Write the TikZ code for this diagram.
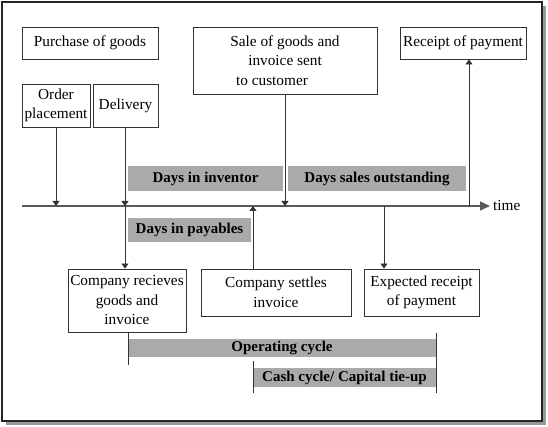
\documentclass[tikz,border=0pt]{standalone}
\usepackage{fontspec}
\setmainfont{Liberation Serif}
\usetikzlibrary{arrows.meta}
\definecolor{barfill}{HTML}{AAAAAA}
\definecolor{linecol}{HTML}{333333}
\begin{document}
\begin{tikzpicture}[x=1pt,y=-1pt,
  txt/.style={font=\fontsize{15.3}{19.5}\selectfont},
  box/.style={draw=linecol,line width=0.9pt,fill=white,align=center,inner sep=0pt,txt},
  bar/.style={fill=barfill,inner sep=0pt,font=\fontsize{15}{19}\selectfont\bfseries},
  conn/.style={draw=linecol,line width=0.8pt,-{Triangle[width=7pt,length=5pt]}},
  tick/.style={draw=linecol,line width=0.8pt}]
\useasboundingbox (0,0) rectangle (548,427);
% frame with shadow
\fill[black!40] (6,6) rectangle (546,425);
\draw[fill=white,draw=black!85,line width=1.5pt] (2,2) rectangle (542,421);
% boxes
\node[box,minimum width=136pt,minimum height=32pt] (purchase) at (90,43) {Purchase of goods};
\node[box,minimum width=68pt,minimum height=43pt] (order) at (56,105.5) {Order\\placement};
\node[box,minimum width=65pt,minimum height=43pt] (delivery) at (125.5,105.5) {Delivery};
\node[box,minimum width=184pt,minimum height=67pt] (sale) at (285,60.5) {Sale of goods and\\invoice sent\\to customer\hspace*{26pt}};
\node[box,minimum width=126pt,minimum height=32pt] (receipt) at (463,43) {Receipt of payment};
\node[box,minimum width=118pt,minimum height=63pt] (recv) at (127,300.5) {Company recieves\\goods and\\invoice};
\node[box,minimum width=150pt,minimum height=47pt] (settles) at (276,292.5) {Company settles\\invoice};
\node[box,minimum width=115pt,minimum height=47pt] (expected) at (421.5,292.5) {Expected receipt\\of payment};
% bars
\node[bar,minimum width=155pt,minimum height=25pt] (inv) at (205.5,178.5) {Days in inventor};
\node[bar,minimum width=178pt,minimum height=25pt] (dso) at (377,178.5) {Days sales outstanding};
\node[bar,minimum width=123pt,minimum height=24pt] (pay) at (189.5,230) {Days in payables};
\node[bar,minimum width=308pt,minimum height=18pt] (op) at (282,348) {Operating cycle};
\node[bar,minimum width=183pt,minimum height=19pt] (cash) at (344.5,377.5) {Cash cycle/ Capital tie-up};
% timeline
\coordinate (t0) at (22,206);
\coordinate (t1) at (490,206);
\draw[draw=black!65,line width=1.5pt,-{Triangle[width=9pt,length=10pt]}] (t0) -- (t1);
\node[txt,anchor=west,inner sep=0pt] (time) at (493,206) {time};
\coordinate (tord) at (56,206);
\coordinate (tdel) at (125,206);
\coordinate (tsale) at (285,206);
\coordinate (trec) at (469,206);
\coordinate (texp) at (384,206);
\coordinate (tset) at (253,206);
% connectors
\draw[conn] (order.south) -- (tord);
\draw[conn] (delivery.south -| tdel) -- (tdel);
\draw[conn] (tdel) -- (tdel |- recv.north);
\draw[conn] (sale.south) -- (tsale);
\draw[conn] (trec) -- (trec |- receipt.south);
\draw[conn] (texp) -- (texp |- expected.north);
\draw[conn] (tset |- settles.north) -- (tset);
% cycle ticks
\draw[tick] (128,333) -- (128,365);
\draw[tick] (436,333) -- (436,393);
\draw[tick] (253,361) -- (253,393);
\end{tikzpicture}
\end{document}
